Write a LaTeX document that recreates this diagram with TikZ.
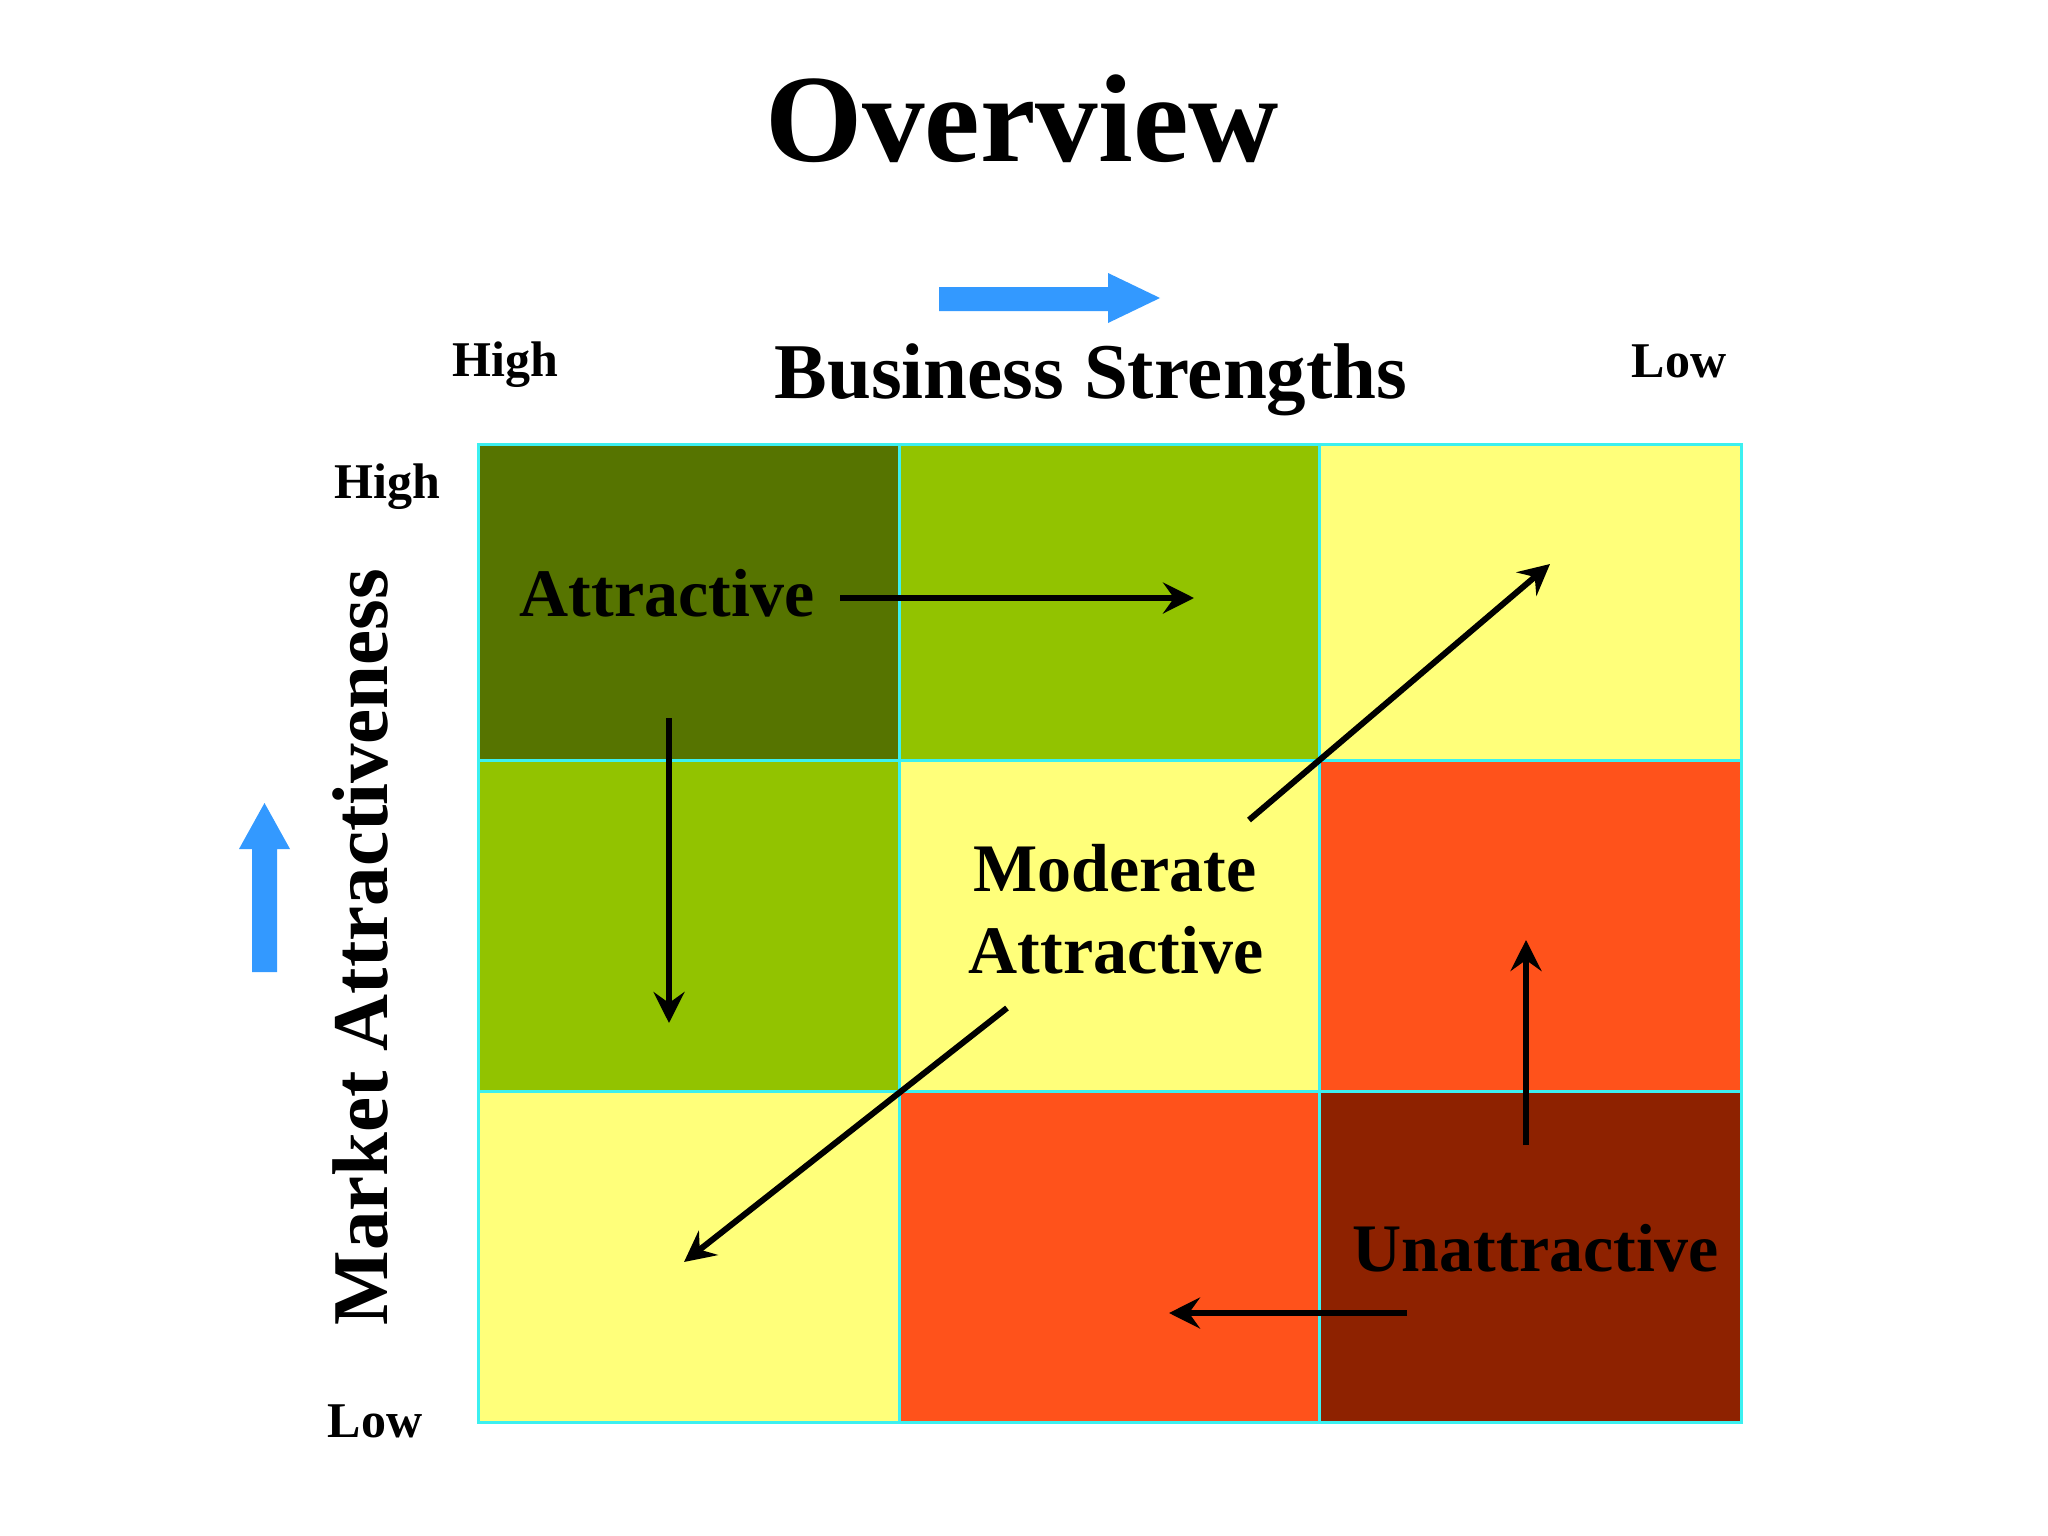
\documentclass[tikz,border=0pt]{standalone}
\usepackage{fontspec}
\setmainfont{Liberation Serif}
\usetikzlibrary{arrows.meta}
\definecolor{cDark}{RGB}{86,116,0}
\definecolor{cGreen}{RGB}{146,195,0}
\definecolor{cYellow}{RGB}{255,255,122}
\definecolor{cOrange}{RGB}{255,82,27}
\definecolor{cRed}{RGB}{142,34,0}
\definecolor{gridcyan}{RGB}{60,240,240}
\definecolor{arrowblue}{RGB}{51,153,255}
\begin{document}
\begin{tikzpicture}[x=1pt,y=-1pt,
  titlestyle/.style={font=\bfseries\fontsize{125}{150}\selectfont, anchor=base, inner sep=0},
  lbl/.style={font=\bfseries\fontsize{50}{60}\selectfont, anchor=base, inner sep=0},
  axislbl/.style={font=\bfseries\fontsize{79}{96}\selectfont, anchor=base, inner sep=0},
  zone/.style={font=\bfseries\fontsize{68}{82}\selectfont, anchor=base, inner sep=0},
  cell/.style={draw=gridcyan, line width=3pt},
  mv/.style={-{Stealth[length=31pt,width=31pt,inset=11pt]}, line width=6pt},
  bluearrow/.style={fill=arrowblue}
]
\useasboundingbox (0,0) rectangle (2048,1536);
\fill[white] (0,0) rectangle (2048,1536);

% grid cells
\path[cell, fill=cDark]   (478,444)  rectangle (899,760);
\path[cell, fill=cGreen]  (899,444)  rectangle (1319,760);
\path[cell, fill=cYellow] (1319,444) rectangle (1741,760);
\path[cell, fill=cGreen]  (478,760)  rectangle (899,1091);
\path[cell, fill=cYellow] (899,760)  rectangle (1319,1091);
\path[cell, fill=cOrange] (1319,760) rectangle (1741,1091);
\path[cell, fill=cYellow] (478,1091) rectangle (899,1422);
\path[cell, fill=cOrange] (899,1091) rectangle (1319,1422);
\path[cell, fill=cRed]    (1319,1091) rectangle (1741,1422);

% title and axis labels
\node[titlestyle] (title) at (1022,161) {Overview};
\node[axislbl] (bs) at (1091,398) {Business Strengths};
\node[lbl] (hightop) at (505,376) {High};
\node[lbl] (lowtop) at (1679,377) {Low};
\node[lbl] (highleft) at (387,498) {High};
\node[lbl] (lowleft) at (375,1437) {Low};
\node[axislbl, rotate=90] (ma) at (387,947) {Market Attractiveness};

% blue direction arrows
\fill[bluearrow] (939,287) -- (1108,287) -- (1108,273) -- (1160,298) -- (1108,323) -- (1108,311) -- (939,311) -- cycle;
\fill[bluearrow] (252,972) -- (252,849) -- (239,849) -- (264.5,803) -- (290,849) -- (277,849) -- (277,972) -- cycle;

% zone labels
\node[zone] (attr) at (667,616) {Attractive};
\node[zone] (mod1) at (1115,891) {Moderate};
\node[zone] (mod2) at (1116,973) {Attractive};
\node[zone] (unattr) at (1536,1271) {Unattractive};

% arrow end points
\coordinate (a1s) at (840,598);  \coordinate (a1e) at (1194,598);
\coordinate (a2s) at (669,718);  \coordinate (a2e) at (669,1023);
\coordinate (a3s) at (1249,820); \coordinate (a3e) at (1550,564);
\coordinate (a4s) at (1007,1008); \coordinate (a4e) at (684,1262);
\coordinate (a5s) at (1526,1145); \coordinate (a5e) at (1526,940);
\coordinate (a6s) at (1407,1313); \coordinate (a6e) at (1169,1313);

\draw[mv] (a1s) -- (a1e);
\draw[mv] (a2s) -- (a2e);
\draw[mv] (a3s) -- (a3e);
\draw[mv] (a4s) -- (a4e);
\draw[mv] (a5s) -- (a5e);
\draw[mv] (a6s) -- (a6e);
\end{tikzpicture}
\end{document}
